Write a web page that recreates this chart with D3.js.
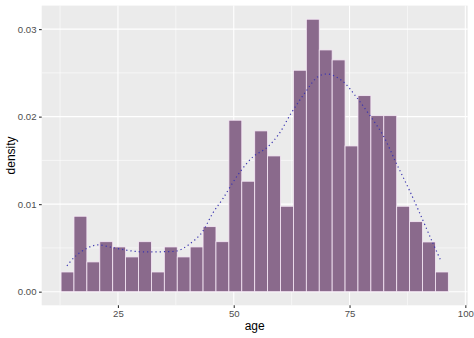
<!DOCTYPE html>
<html>
<head>
<meta charset="utf-8">
<script src="https://cdn.jsdelivr.net/npm/d3@7"></script>
<style>
  body { margin: 0; background: #fff; }
  text { font-family: "Liberation Sans", Arial, sans-serif; }
</style>
</head>
<body>
<div id="chart"></div>
<script>
// histogram bins (30 bins)
var binStart = 12.72;
var binWidth = 2.787;
var binDensity = [0.00225, 0.00862, 0.0034, 0.00571, 0.00511, 0.00397, 0.00571, 0.00225, 0.00511, 0.00397,
                  0.00511, 0.00743, 0.00571, 0.01959, 0.01262, 0.01837, 0.01551, 0.00976, 0.0253, 0.03113,
                  0.02762, 0.02648, 0.01665, 0.0224, 0.02011, 0.02011, 0.00976, 0.008, 0.00568, 0.00225];

// density curve points
var curveAge = [14.0, 15.7, 18.3, 20.4, 23.6, 26.5, 29.4, 32.0, 35.1, 38.0, 40.2, 43.0, 45.5, 47.7, 50.9,
                54.2, 57.0, 59.6, 62.4, 65.3, 68.2, 70.5, 73.6, 76.4, 79.3, 82.2, 85.1, 87.9, 90.8, 93.0, 94.8];
var curveDensity = [0.00295, 0.0040, 0.00496, 0.00534, 0.00507, 0.00477, 0.00457, 0.00455, 0.00457, 0.00469,
                    0.00534, 0.00667, 0.0090, 0.01067, 0.01334, 0.01543, 0.01639, 0.0179, 0.02039, 0.02267,
                    0.02457, 0.02486, 0.024, 0.02229, 0.0202, 0.0179, 0.01467, 0.01162, 0.0082, 0.00553, 0.00343];

// ticks
var xTicks = [25, 50, 75, 100];
var xMinor = [12.5, 37.5, 62.5, 87.5];
var yTicks = [0, 0.01, 0.02, 0.03];
var yMinor = [0.005, 0.015, 0.025];

var svgWidth = 474;
var svgHeight = 338;

var panel = { left: 41.7, right: 467.7, top: 5.6, bottom: 305.3 };

var svg = d3.select("#chart")
    .append("svg")
    .attr("width", svgWidth)
    .attr("height", svgHeight);

var bins = binDensity.map(function (d, i) {
    return { x0: binStart + i * binWidth, x1: binStart + (i + 1) * binWidth, y: d };
});

// ggplot style 5% expansion
var xLo = binStart, xHi = binStart + binDensity.length * binWidth;
var xPad = (xHi - xLo) * 0.05;
var yMax = d3.max(binDensity);

var x = d3.scaleLinear()
    .domain([xLo - xPad, xHi + xPad])
    .range([panel.left, panel.right]);

var y = d3.scaleLinear()
    .domain([-yMax * 0.05, yMax * 1.05])
    .range([panel.bottom, panel.top]);

// panel background
svg.append("rect")
    .attr("x", panel.left)
    .attr("y", panel.top)
    .attr("width", panel.right - panel.left)
    .attr("height", panel.bottom - panel.top)
    .attr("fill", "#ebebeb");

// grid lines
var grid = svg.append("g");
grid.selectAll(".xminor").data(xMinor).enter().append("line")
    .attr("x1", d => x(d)).attr("x2", d => x(d))
    .attr("y1", panel.top).attr("y2", panel.bottom)
    .attr("stroke", "#fff").attr("stroke-width", 0.55);
grid.selectAll(".yminor").data(yMinor).enter().append("line")
    .attr("y1", d => y(d)).attr("y2", d => y(d))
    .attr("x1", panel.left).attr("x2", panel.right)
    .attr("stroke", "#fff").attr("stroke-width", 0.55);
grid.selectAll(".xmajor").data(xTicks).enter().append("line")
    .attr("x1", d => x(d)).attr("x2", d => x(d))
    .attr("y1", panel.top).attr("y2", panel.bottom)
    .attr("stroke", "#fff").attr("stroke-width", 1.1);
grid.selectAll(".ymajor").data(yTicks).enter().append("line")
    .attr("y1", d => y(d)).attr("y2", d => y(d))
    .attr("x1", panel.left).attr("x2", panel.right)
    .attr("stroke", "#fff").attr("stroke-width", 1.1);

// bars
svg.append("g").selectAll("rect")
    .data(bins)
    .enter()
    .append("rect")
    .attr("x", d => x(d.x0))
    .attr("y", d => y(d.y))
    .attr("width", d => x(d.x1) - x(d.x0))
    .attr("height", d => y(0) - y(d.y))
    .attr("fill", "#8a6a8c")
    .attr("stroke", "#f7e9f7")
    .attr("stroke-width", 0.8);

// density curve
var line = d3.line()
    .x(d => x(d[0]))
    .y(d => y(d[1]))
    .curve(d3.curveCatmullRom);

svg.append("path")
    .datum(curveAge.map((a, i) => [a, curveDensity[i]]))
    .attr("d", line)
    .attr("fill", "none")
    .attr("stroke", "#3a34b0")
    .attr("stroke-width", 1.2)
    .attr("stroke-dasharray", "1.2,3");

// axes
var bottomAxis = d3.axisBottom(x)
    .tickValues(xTicks)
    .tickSize(2.7)
    .tickPadding(2.5)
    .tickFormat(d3.format("d"));
var leftAxis = d3.axisLeft(y)
    .tickValues(yTicks)
    .tickSize(2.7)
    .tickPadding(2.5)
    .tickFormat(d3.format(".2f"));

var gx = svg.append("g")
    .attr("transform", `translate(0, ${panel.bottom})`)
    .call(bottomAxis);
var gy = svg.append("g")
    .attr("transform", `translate(${panel.left}, 0)`)
    .call(leftAxis);

[gx, gy].forEach(function (g) {
    g.select(".domain").remove();
    g.selectAll(".tick line").attr("stroke", "#333").attr("stroke-width", 1.1);
    g.selectAll(".tick text")
        .attr("fill", "#4d4d4d")
        .style("font-size", "9.6px")
        .style("font-family", "'Liberation Sans', Arial, sans-serif");
});

// axis titles
svg.append("text")
    .attr("x", (panel.left + panel.right) / 2)
    .attr("y", 329.5)
    .attr("text-anchor", "middle")
    .style("font-size", "12px")
    .attr("fill", "#000")
    .text("age");

svg.append("text")
    .attr("transform", `translate(14.5, ${(panel.top + panel.bottom) / 2}) rotate(-90)`)
    .attr("text-anchor", "middle")
    .style("font-size", "12px")
    .attr("fill", "#000")
    .text("density");
</script>
</body>
</html>
